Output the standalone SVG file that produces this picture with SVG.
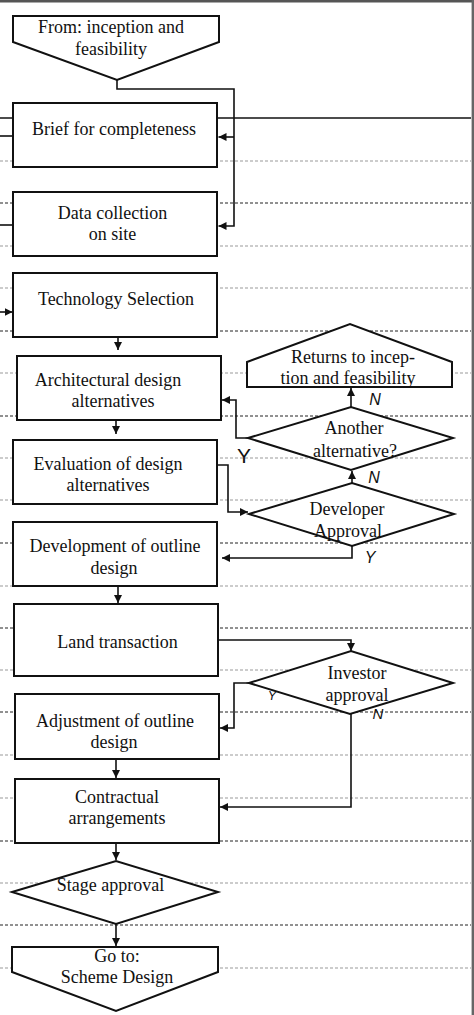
<svg xmlns="http://www.w3.org/2000/svg" width="474" height="1015" viewBox="0 0 474 1015">
<style>
.t{font-family:"Liberation Serif","Times New Roman",serif;font-size:18px;fill:#111;text-anchor:middle}
.lbl{font-family:"Liberation Sans",Arial,sans-serif;fill:#111;text-anchor:middle}
.it{font-style:italic}
.box{fill:#fff;stroke:#111;stroke-width:2}
.dk{stroke:#222;stroke-width:1;stroke-dasharray:3 2;fill:none}
.lt{stroke:#999;stroke-width:1;stroke-dasharray:3 2;fill:none}
.c{fill:none;stroke:#111;stroke-width:1.6}
.ca{fill:none;stroke:#111;stroke-width:1.6;marker-end:url(#ah)}
</style>
<defs>
<marker id="ah" markerUnits="userSpaceOnUse" markerWidth="9" markerHeight="8" refX="8" refY="4" orient="auto">
<path d="M0,0 L8,4 L0,8 z" fill="#111"/>
</marker>
</defs>
<rect x="0" y="0" width="474" height="1015" fill="#fff"/>
<g id="frame">
<line x1="0" y1="1.3" x2="474" y2="1.3" stroke="#555" stroke-width="2.6"/>
<line x1="472.8" y1="0" x2="472.8" y2="1015" stroke="#666" stroke-width="2.4"/>
</g>
<g id="lanes">
<line class="lt" x1="0" y1="161" x2="471" y2="161"/>
<line class="dk" x1="0" y1="203" x2="471" y2="203"/>
<line class="lt" x1="0" y1="246" x2="471" y2="246"/>
<line class="lt" x1="0" y1="288" x2="471" y2="288"/>
<line class="dk" x1="0" y1="331" x2="471" y2="331"/>
<line class="lt" x1="0" y1="373" x2="471" y2="373"/>
<line class="dk" x1="0" y1="416" x2="471" y2="416"/>
<line class="lt" x1="0" y1="458" x2="471" y2="458"/>
<line class="lt" x1="0" y1="500" x2="471" y2="500"/>
<line class="dk" x1="0" y1="543" x2="471" y2="543"/>
<line class="lt" x1="0" y1="586" x2="471" y2="586"/>
<line class="dk" x1="0" y1="628" x2="471" y2="628"/>
<line class="lt" x1="0" y1="670" x2="471" y2="670"/>
<line class="dk" x1="0" y1="712" x2="471" y2="712"/>
<line class="lt" x1="0" y1="755" x2="471" y2="755"/>
<line class="lt" x1="0" y1="798" x2="471" y2="798"/>
<line class="dk" x1="0" y1="841" x2="471" y2="841"/>
<line class="lt" x1="0" y1="883" x2="471" y2="883"/>
<line class="dk" x1="0" y1="925" x2="471" y2="925"/>
<line class="lt" x1="0" y1="968" x2="471" y2="968"/>
</g>
<g id="connectors">
<line class="c" x1="0" y1="118" x2="471" y2="118"/>
<line class="c" x1="0" y1="136" x2="13" y2="136"/>
<line class="c" x1="0" y1="225" x2="13" y2="225"/>
<path class="ca" d="M0,312 H12.5"/>
<path class="ca" d="M117,80 V89 H234 V226 H218.5"/>
<path class="ca" d="M234,137 H218.5"/>
<path class="ca" d="M118,337 V350"/>
<path class="ca" d="M116,420 V434"/>
<path class="ca" d="M351,407 V388"/>
<path class="ca" d="M248,438 H236 V400 H222"/>
<path class="ca" d="M217,465 H228 V512 H248"/>
<path class="ca" d="M352,483 V471"/>
<path class="ca" d="M352,546 V558 H222"/>
<path class="ca" d="M118,586 V603"/>
<path class="ca" d="M218,640 H351 V651"/>
<path class="ca" d="M249,683 H234 V728 H220"/>
<path class="ca" d="M351,714 V807 H220"/>
<path class="ca" d="M116,759 V778"/>
<path class="ca" d="M116,843 V860"/>
<path class="ca" d="M116,924 V946"/>
</g>
<g id="n-from">
<polygon class="box" points="13,16 219,16 219,42 117,80 13,42"/>
<text class="t" x="111" y="33">From: inception and</text>
<text class="t" x="111" y="55">feasibility</text>
</g>
<g id="n-brief">
<rect class="box" x="13" y="103" width="204" height="64"/>
<text class="t" x="114" y="135">Brief for completeness</text>
</g>
<g id="n-data">
<rect class="box" x="13" y="192" width="204" height="64"/>
<text class="t" x="112.5" y="219">Data collection</text>
<text class="t" x="112.5" y="240">on site</text>
</g>
<g id="n-tech">
<rect class="box" x="13" y="273" width="204" height="64"/>
<text class="t" x="116" y="305">Technology Selection</text>
</g>
<g id="n-arch">
<rect class="box" x="17" y="356" width="204" height="64"/>
<text class="t" x="108" y="386">Architectural design</text>
<text class="t" x="113" y="407">alternatives</text>
</g>
<g id="n-eval">
<rect class="box" x="13" y="440" width="204" height="64"/>
<text class="t" x="108" y="470">Evaluation of design</text>
<text class="t" x="108" y="491">alternatives</text>
</g>
<g id="n-returns">
<polygon class="box" points="247,387 247,362 350,324 452,362 452,387"/>
<text class="t" x="353" y="363">Returns to incep-</text>
<text class="t" x="348" y="384">tion and feasibility</text>
</g>
<g id="n-another">
<polygon class="box" points="248,438 351,407 453,438 351,470"/>
<text class="t" x="354" y="434">Another</text>
<text class="t" x="355" y="457">alternative?</text>
</g>
<g id="n-developer">
<polygon class="box" points="249,514 352,483 454,514 352,546"/>
<text class="t" x="347" y="515">Developer</text>
<text class="t" x="348" y="537">Approval</text>
</g>
<g id="n-devoutline">
<rect class="box" x="13" y="522" width="204" height="64"/>
<text class="t" x="115" y="552">Development of outline</text>
<text class="t" x="114" y="574">design</text>
</g>
<g id="n-land">
<rect class="box" x="14" y="604" width="204" height="72"/>
<text class="t" x="117.5" y="648">Land transaction</text>
</g>
<g id="n-investor">
<polygon class="box" points="249,683 351,651 453,683 350,714"/>
<text class="t" x="357" y="679">Investor</text>
<text class="t" x="357" y="701">approval</text>
</g>
<g id="n-adjust">
<rect class="box" x="15" y="694" width="204" height="65"/>
<text class="t" x="115" y="727">Adjustment of outline</text>
<text class="t" x="114" y="748">design</text>
</g>
<g id="n-contract">
<rect class="box" x="15" y="779" width="204" height="64"/>
<text class="t" x="117" y="803">Contractual</text>
<text class="t" x="117" y="824">arrangements</text>
</g>
<g id="n-stage">
<polygon class="box" points="12,892 116,861 218,892 116,924"/>
<text class="t" x="110.5" y="891">Stage approval</text>
</g>
<g id="n-goto">
<polygon class="box" points="12,947 218,947 218,972 116,1011 12,972"/>
<text class="t" x="117" y="962">Go to:</text>
<text class="t" x="117" y="983">Scheme Design</text>
</g>
<g id="labels">
<text class="lbl it" x="375" y="405" font-size="16">N</text>
<text class="lbl" x="244" y="463" font-size="21">Y</text>
<text class="lbl it" x="374" y="483" font-size="16">N</text>
<text class="lbl it" x="370" y="563" font-size="16">Y</text>
<text class="lbl it" x="272" y="700" font-size="13">Y</text>
<text class="lbl it" x="378" y="719" font-size="15">N</text>
</g>
</svg>
